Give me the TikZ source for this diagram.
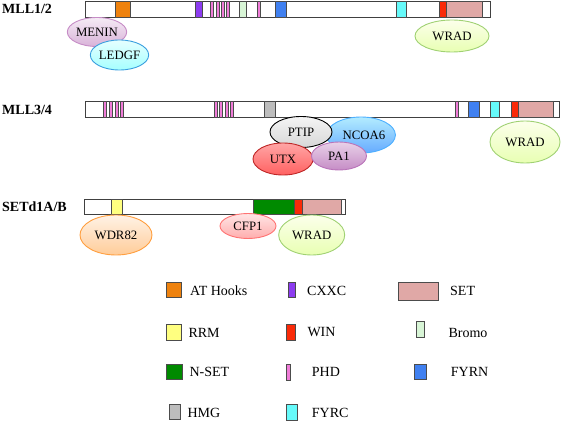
\documentclass[tikz,border=0pt]{standalone}
\usepackage{fontspec}
\setmainfont{Liberation Serif}
\usetikzlibrary{shapes.geometric}
\definecolor{cOrange}{HTML}{EE820E}
\definecolor{cPurple}{HTML}{8C3CF0}
\definecolor{cPink}{HTML}{F07CD8}
\definecolor{cBromo}{HTML}{D8F5D6}
\definecolor{cBlue}{HTML}{4080F0}
\definecolor{cCyan}{HTML}{66FAFA}
\definecolor{cRed}{HTML}{FA2A08}
\definecolor{cSet}{HTML}{E0A8A6}
\definecolor{cYellow}{HTML}{FFFF80}
\definecolor{cGreen}{HTML}{008A00}
\definecolor{cGray}{HTML}{BDBDBD}
\newcommand\mydom[5]{\draw[dom,fill=#1] (#2,#4) rectangle (#3,#5);}
\begin{document}
\begin{tikzpicture}[x=1pt,y=-1pt,
  bar/.style={draw=black!75,line width=0.8pt,fill=white},
  dom/.style={draw=black!70,line width=0.5pt},
  ell/.style={ellipse,inner sep=0pt,line width=0.9pt,font=\fontsize{12.8}{13}\selectfont},
  lab/.style={font=\bfseries\fontsize{14}{14}\selectfont,anchor=west,inner sep=0pt},
  leg/.style={font=\fontsize{14}{14}\selectfont,anchor=west,inner sep=0pt},
  sw/.style={draw=black!70,line width=0.6pt}]
\useasboundingbox (0,0) rectangle (568,422);
% ---------- MLL1/2 ----------
\node[lab] (l1) at (2,9) {MLL1/2};
\draw[bar] (85,1.5) rectangle (490,17);
\mydom{cOrange}{115.7}{130}{1.5}{17}
\mydom{cPurple}{195.7}{202}{1.5}{17}
\mydom{cPink}{210.5}{213.5}{1.5}{17}
\mydom{cPink}{216}{219}{1.5}{17}
\mydom{cPink}{221.5}{224.5}{1.5}{17}
\mydom{cPink}{226}{229}{1.5}{17}
\mydom{cBromo}{239}{246}{1.5}{17}
\mydom{cPink}{257}{260}{1.5}{17}
\mydom{cBlue}{275.3}{286.7}{1.5}{17}
\mydom{cCyan}{396.7}{406.7}{1.5}{17}
\mydom{cRed}{439.3}{446}{1.5}{17}
\mydom{cSet}{446}{482}{1.5}{17}
\node[ell,draw=violet!45,top color=violet!8,bottom color=violet!30,minimum width=52pt,minimum height=29pt] (menin) at (97,32) {MENIN};
\node[ell,draw=cyan!75!blue!80,top color=cyan!10,bottom color=cyan!35,minimum width=53pt,minimum height=30pt] (ledgf) at (119.5,55) {LEDGF};
\node[ell,draw=green!35!olive!55,top color=green!15!yellow!8,bottom color=green!30!yellow!30,minimum width=74pt,minimum height=32pt] (wrad1) at (452,36) {WRAD};
% ---------- MLL3/4 ----------
\node[lab] (l2) at (2,110) {MLL3/4};
\draw[bar] (85,101) rectangle (559,117);
\mydom{cPink}{103.3}{106.3}{101}{117}
\mydom{cPink}{109.5}{112.5}{101}{117}
\mydom{cPink}{115.5}{118.5}{101}{117}
\mydom{cPink}{120.5}{123.5}{101}{117}
\mydom{cPink}{214}{217}{101}{117}
\mydom{cPink}{219.5}{222.5}{101}{117}
\mydom{cPink}{225}{228}{101}{117}
\mydom{cPink}{230.5}{233.5}{101}{117}
\mydom{cGray}{264.3}{275}{101}{117}
\mydom{cPink}{455}{458}{101}{117}
\mydom{cBlue}{468.3}{479.3}{101}{117}
\mydom{cCyan}{490}{499.3}{101}{117}
\mydom{cRed}{511.7}{518.7}{101}{117}
\mydom{cSet}{518.7}{553.3}{101}{117}
\node[ell,draw=blue!45!cyan!70,top color=blue!25!cyan!30,bottom color=blue!55!cyan!60,minimum width=68pt,minimum height=36pt] (ncoa6) at (361,135) {\hspace{6pt}NCOA6};
\node[ell,draw=black,top color=black!4,bottom color=black!16,minimum width=62pt,minimum height=31pt] (ptip) at (301,132) {PTIP};
\node[ell,draw=red!70!black!85,top color=red!35,bottom color=red!62,minimum width=60pt,minimum height=32pt] (utx) at (283,159) {UTX};
\node[ell,draw=violet!55,top color=violet!18,bottom color=violet!45,minimum width=55pt,minimum height=28pt] (pa1) at (339,156) {PA1};
\node[ell,draw=green!35!olive!55,top color=green!15!yellow!8,bottom color=green!30!yellow!30,minimum width=70pt,minimum height=42pt] (wrad2) at (525,142) {WRAD};
% ---------- SETd1A/B ----------
\node[lab] (l3) at (2,207) {SETd1A/B};
\draw[bar] (84,199) rectangle (345.7,214);
\mydom{cYellow}{111}{122.7}{199}{214}
\mydom{cGreen}{253.3}{294.3}{199}{214}
\mydom{cRed}{294.3}{302.3}{199}{214}
\mydom{cSet}{302.3}{341.7}{199}{214}
\node[ell,draw=orange!75,top color=orange!10,bottom color=orange!40,minimum width=72pt,minimum height=40pt] (wdr82) at (116,235) {WDR82};
\node[ell,draw=red!55,top color=red!10,bottom color=red!32,minimum width=56pt,minimum height=25pt] (cfp1) at (248,226) {CFP1};
\node[ell,draw=green!35!olive!55,top color=green!15!yellow!8,bottom color=green!30!yellow!30,minimum width=66pt,minimum height=40pt] (wrad3) at (311.7,235) {WRAD};
% ---------- legend ----------
\draw[sw,fill=cOrange] (166,282.3) rectangle (181,297.7);
\node[leg] (t1) at (190,291) {AT Hooks};
\draw[sw,fill=cPurple] (288.3,282.3) rectangle (295.7,297.7);
\node[leg] (t2) at (307,291) {CXXC};
\draw[sw,fill=cSet] (398.7,282.7) rectangle (438.3,300.7);
\node[leg] (t3) at (450,291) {SET};
\draw[sw,fill=cYellow] (166,324.3) rectangle (181.7,340);
\node[leg] (t4) at (188.3,333) {RRM};
\draw[sw,fill=cRed] (286.7,324.3) rectangle (295,340);
\node[leg] (t5) at (307.3,332) {WIN};
\draw[sw,fill=cBromo] (416.7,321.7) rectangle (424.3,337.7);
\node[leg] (t6) at (448.3,333.3) {Bromo};
\draw[sw,fill=cGreen] (166.7,364.3) rectangle (182.7,379.3);
\node[leg] (t7) at (189.3,372) {N-SET};
\draw[sw,fill=cPink] (286.7,364) rectangle (290.7,380);
\node[leg] (t8) at (311.7,372) {PHD};
\draw[sw,fill=cBlue] (414.3,364.3) rectangle (426,379.3);
\node[leg] (t9) at (450.7,372) {FYRN};
\draw[sw,fill=cGray] (169.3,404) rectangle (180,419.3);
\node[leg] (t10) at (187.3,412.7) {HMG};
\draw[sw,fill=cCyan] (286.7,404.3) rectangle (297.3,420);
\node[leg] (t11) at (311.7,412.7) {FYRC};
\end{tikzpicture}
\end{document}
